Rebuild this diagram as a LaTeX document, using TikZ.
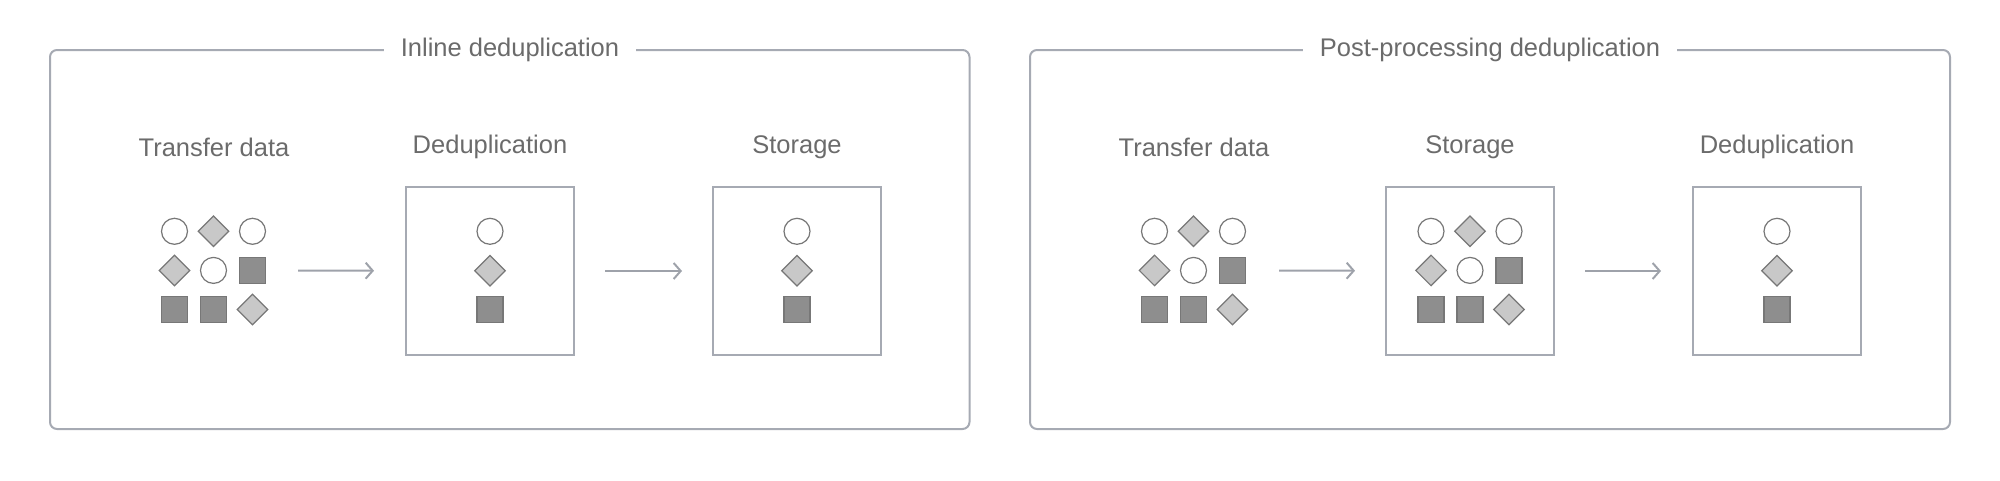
\documentclass[tikz,border=0pt]{standalone}
\usepackage{fontspec}
\setmainfont{Liberation Sans}
\usetikzlibrary{arrows.meta,shapes.geometric}
\definecolor{framegray}{HTML}{A6AAB3}
\definecolor{arrowgray}{HTML}{9EA2AA}
\definecolor{textgray}{HTML}{6B6B6B}
\definecolor{shapeline}{HTML}{777777}
\definecolor{diamfill}{HTML}{C8C8C8}
\definecolor{sqfill}{HTML}{8E8E8E}
\begin{document}
\begin{tikzpicture}[x=1pt,y=-1pt,
	frame/.style={draw=framegray,line width=2pt,rounded corners=7pt},
	title_node/.style={anchor=base,fill=white,text=textgray,inner xsep=17pt,inner ysep=3pt,font=\fontsize{25.5}{30}\selectfont},
	label_node/.style={anchor=base,text=textgray,inner sep=0pt,font=\fontsize{25.5}{30}\selectfont},
	box_node/.style={draw=framegray,line width=2pt,minimum size=168pt,inner sep=0pt},
	circ/.style={circle,draw=shapeline,fill=white,line width=1.2pt,minimum size=26pt,inner sep=0pt},
	diam/.style={diamond,draw=shapeline,fill=diamfill,line width=1.2pt,minimum size=31pt,inner sep=0pt},
	sq/.style={rectangle,draw=shapeline,fill=sqfill,line width=1.2pt,minimum size=26pt,inner sep=0pt},
	arr/.style={draw=arrowgray,line width=2pt,-{Straight Barb[length=7pt,width=16pt,line width=2pt]}}]

		\useasboundingbox (0,0) rectangle (2000,480);

		\draw[frame] (50,50) rectangle (969.5,429);
		\draw[frame] (1030,50) rectangle (1950,429);

		\node[title_node] (inline_title) at (510,56) {Inline deduplication};
		\node[title_node] (post_title) at (1490,56) {Post-processing deduplication};

		\node[label_node] (transfer_a) at (214,156) {Transfer data};
		\node[label_node] (dedup_a_lbl) at (490,153) {Deduplication};
		\node[label_node] (store_a_lbl) at (797,153) {Storage};
		\node[label_node] (transfer_b) at (1194,156) {Transfer data};
		\node[label_node] (store_b_lbl) at (1470,153) {Storage};
		\node[label_node] (dedup_b_lbl) at (1777,153) {Deduplication};

		\node[box_node] (dedup_a) at (490,271) {};
		\node[box_node] (store_a) at (797,271) {};
		\node[box_node] (store_b) at (1470,271) {};
		\node[box_node] (dedup_b) at (1777,271) {};

		\foreach \g/\gx in {ta/174.5,tb/1154.5,sb/1431}
			\foreach \r/\c/\s in {1/1/circ,1/2/diam,1/3/circ,2/1/diam,2/2/circ,2/3/sq,3/1/sq,3/2/sq,3/3/diam}
				\node[\s] (\g\r\c) at ({\gx+39*(\c-1)},{231.3+39.1*(\r-1)}) {};

		\foreach \b/\bx in {da/490,sa/797,db/1777}
			{
			\node[circ] (\b1) at (\bx,231.3) {};
			\node[diam] (\b2) at (\bx,270.7) {};
			\node[sq] (\b3) at (\bx,309.5) {};
			}

		\draw[arr,shorten <=32pt,shorten >=31pt] (ta23) -- (dedup_a);
		\draw[arr,shorten <=30pt,shorten >=30pt] (dedup_a) -- (store_a);
		\draw[arr,shorten <=33pt,shorten >=30pt] (tb23) -- (store_b);
		\draw[arr,shorten <=30pt,shorten >=31pt] (store_b) -- (dedup_b);
		\end{tikzpicture}
\end{document}
